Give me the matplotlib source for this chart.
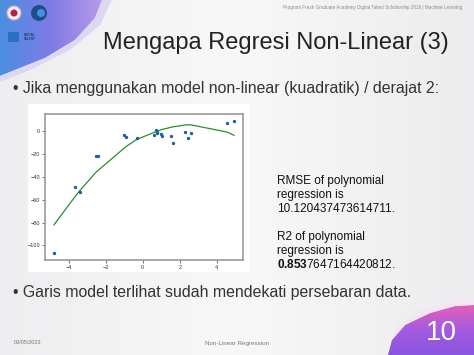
import numpy as np
import matplotlib
matplotlib.use('Agg')
import matplotlib.pyplot as plt
from matplotlib.patches import Polygon, Circle, Rectangle

plt.rcParams['font.family'] = ['Liberation Sans', 'DejaVu Sans']
plt.rcParams['mathtext.fontset'] = 'custom'
plt.rcParams['mathtext.rm'] = 'Liberation Sans'
plt.rcParams['mathtext.bf'] = 'Liberation Sans:bold'

# sample points
x_data = [-4.80, -3.65, -3.38, -2.54, -2.40, -0.99, -0.90, -0.32, 0.63, 0.74, 0.76,
          0.78, 0.96, 1.03, 1.54, 1.61, 2.29, 2.45, 2.60, 4.55, 4.93]
y_data = [-107.0, -48.7, -52.8, -21.6, -21.9, -2.9, -5.2, -5.8, -3.5, 1.2, -0.3,
          -1.7, -2.6, -4.4, -3.8, -9.9, -0.3, -5.5, -1.4, 7.0, 9.4]
# fitted quadratic model, evaluated at the sorted x values
y_model = [-81.9, -57.0, -51.5, -36.0, -34.0, -14.5, -13.3, -7.0, -0.8, -0.2, 0.0,
           0.1, 1.2, 1.6, 3.6, 3.9, 5.6, 5.8, 5.7, -0.6, -3.5]
x_ticks = [-4, -2, 0, 2, 4]
y_ticks = [0, -20, -40, -60, -80, -100]

title = "Mengapa Regresi Non-Linear (3)"
header = "Program Fresh Graduate Academy Digital Talent Scholarship 2019 | Machine Learning"
bullet1 = "\u2022 Jika menggunakan model non-linear (kuadratik) / derajat 2:"
bullet2 = "\u2022 Garis model terlihat sudah mendekati persebaran data."
rmse_text = "RMSE of polynomial\nregression is\n10.120437473614711."
r2_head = "R2 of polynomial\nregression is"
r2_value = r"$\mathbf{0.853}$7647164420812."
footer_date = "09/05/2023"
footer_mid = "Non-Linear Regression"
page_no = "10"

W, H = 474, 355
fig = plt.figure(figsize=(W / 100, H / 100), dpi=100)

# slide background in pixel coordinates
bg = fig.add_axes([0, 0, 1, 1])
bg.set_xlim(0, W)
bg.set_ylim(H, 0)
bg.axis('off')
grad = np.linspace(0, 1, 256).reshape(1, -1)
bg.imshow(grad, extent=[0, W, H, 0], cmap=matplotlib.colors.LinearSegmentedColormap.from_list(
    'bgc', ['#eeeef0', '#f8f8f8', '#ececee']), aspect='auto', zorder=0)

# top-left blue/purple swoosh
tl = Polygon([(0, 0), (102, 0), (95, 18), (75, 40), (45, 58), (15, 70), (0, 76)],
             closed=True, facecolor='none', edgecolor='none')
bg.add_patch(tl)
img = bg.imshow(np.linspace(0, 1, 256).reshape(1, -1), extent=[0, 102, 76, 0],
                cmap=matplotlib.colors.LinearSegmentedColormap.from_list('tl', ['#4a8fe0', '#7f7be6', '#b79aea']),
                aspect='auto', zorder=1)
img.set_clip_path(tl)
bg.add_patch(Polygon([(102, 0), (112, 0), (100, 25), (70, 50), (30, 70), (0, 82), (0, 76),
                      (15, 70), (45, 58), (75, 40), (95, 18)], closed=True,
                     facecolor='#dcd7f2', edgecolor='none', zorder=1))
bg.add_patch(Circle((14, 13), 7, facecolor='#f3e9ef', edgecolor='#c9b0c4', lw=0.8, zorder=2))
bg.add_patch(Circle((14, 13), 3.5, facecolor='#b0234a', edgecolor='none', zorder=3))
bg.add_patch(Circle((39, 13), 8, facecolor='#1d4f8c', edgecolor='none', zorder=2))
bg.add_patch(Circle((41, 13), 4, facecolor='#4a8fe0', edgecolor='none', zorder=3))
bg.add_patch(Rectangle((8, 32), 11, 10, facecolor='#2b6fc4', edgecolor='none', zorder=2))
bg.text(24, 37, "DIGITAL\nTALENT", fontsize=2.2, color='#1d3f7a', va='center', fontweight='bold', zorder=3)

# bottom-right purple/pink swoosh
br = Polygon([(474, 305), (455, 306), (430, 313), (405, 325), (392, 340), (388, 355), (474, 355)],
             closed=True, facecolor='none', edgecolor='none')
bg.add_patch(br)
img2 = bg.imshow(np.linspace(0, 1, 256).reshape(-1, 1), extent=[388, 474, 355, 305],
                 cmap=matplotlib.colors.LinearSegmentedColormap.from_list('br', ['#e660b8', '#a45adf', '#8a55e0']),
                 aspect='auto', zorder=1)
img2.set_clip_path(br)
bg.add_patch(Polygon([(474, 300), (450, 301), (420, 310), (398, 326), (392, 340), (405, 325),
                      (430, 313), (455, 306), (474, 305)], closed=True,
                     facecolor='#f2e6f3', edgecolor='none', zorder=1))

# white area behind the chart image
bg.add_patch(Rectangle((28, 104), 222, 168, facecolor='white', edgecolor='none', zorder=2))

# texts
bg.text(462, 8, header, fontsize=3.3, color='#8a8a8a', ha='right', va='center', zorder=4)
bg.text(103, 43, title, fontsize=17, color='#222222', ha='left', va='center', zorder=4)
bg.text(13, 88, bullet1, fontsize=11.4, color='#333333', ha='left', va='center', zorder=4)
bg.text(13, 292, bullet2, fontsize=11.4, color='#333333', ha='left', va='center', zorder=4)
bg.text(277, 195, rmse_text, fontsize=8.5, color='#111111', ha='left', va='center', linespacing=1.25, zorder=4)
bg.text(277, 244, r2_head, fontsize=8.5, color='#111111', ha='left', va='center', linespacing=1.25, zorder=4)
bg.text(277, 265, r2_value, fontsize=8.5, color='#111111', ha='left', va='center', zorder=4)
bg.text(14, 343, footer_date, fontsize=4, color='#777777', ha='left', va='center', zorder=4)
bg.text(237, 343, footer_mid, fontsize=4.5, color='#777777', ha='center', va='center', zorder=4)
bg.text(441, 333, page_no, fontsize=20, color='white', ha='center', va='center', zorder=4)

# the chart itself
ax = fig.add_axes([45 / W, 1 - 260 / H, 198 / W, 146 / H])
ax.scatter(x_data, y_data, s=2, color='#1f5f9f', zorder=3)
ax.plot(x_data, y_model, color='#2e8b2e', lw=0.9)
ax.set_xticks(x_ticks)
ax.set_yticks(y_ticks)
ax.tick_params(labelsize=4, length=2, width=0.5, pad=1.5, colors='#333333')
for s in ax.spines.values():
    s.set_color('#9a9a9a')
    s.set_linewidth(1.2)

fig.savefig('out.png', dpi=100)
